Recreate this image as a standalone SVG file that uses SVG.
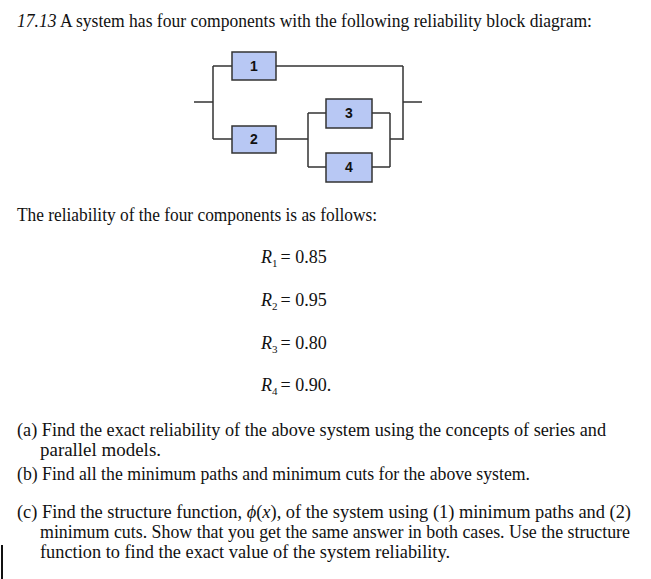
<svg xmlns="http://www.w3.org/2000/svg" width="651" height="579" viewBox="0 0 651 579">
<style>
.t{font-family:"Liberation Serif",serif;font-size:18px;fill:#111}
.b{fill:#b8c8f4;stroke:#333;stroke-width:1.5}
.n{font-family:"Liberation Sans",Arial,sans-serif;font-size:14px;font-weight:bold;text-anchor:middle;fill:#111}
.c{fill:none;stroke:#333;stroke-width:1.5}
</style>
<rect width="651" height="579" fill="#fff"/>
<text class="t" x="17" y="27" textLength="575" lengthAdjust="spacingAndGlyphs"><tspan font-style="italic">17.13</tspan> A system has four components with the following reliability block diagram:</text>
<g id="connectors">
<path class="c" d="M194 102H213M213 66V139M213 66H232M213 139H232M276 66H403M403 66V140M403 102H422M276 139H308M308 113V167M308 113H326M308 167H326M372 113H390M372 167H390M390 113V167M390 139H403"/>
</g>
<g id="n1"><rect class="b" x="232" y="52" width="44" height="28"/><text class="n" x="254" y="71">1</text></g>
<g id="n2"><rect class="b" x="232" y="126" width="44" height="27"/><text class="n" x="254" y="144">2</text></g>
<g id="n3"><rect class="b" x="326" y="99" width="46" height="29"/><text class="n" x="349" y="118">3</text></g>
<g id="n4"><rect class="b" x="326" y="153" width="46" height="29"/><text class="n" x="349" y="172">4</text></g>
<text class="t" x="17" y="221" textLength="360" lengthAdjust="spacingAndGlyphs">The reliability of the four components is as follows:</text>
<text class="t" x="261" y="263"><tspan font-style="italic">R</tspan><tspan font-size="11" dy="4">1</tspan><tspan dy="-4" dx="3">= 0.85</tspan></text>
<text class="t" x="261" y="306"><tspan font-style="italic">R</tspan><tspan font-size="11" dy="4">2</tspan><tspan dy="-4" dx="3">= 0.95</tspan></text>
<text class="t" x="261" y="349"><tspan font-style="italic">R</tspan><tspan font-size="11" dy="4">3</tspan><tspan dy="-4" dx="3">= 0.80</tspan></text>
<text class="t" x="261" y="391"><tspan font-style="italic">R</tspan><tspan font-size="11" dy="4">4</tspan><tspan dy="-4" dx="3">= 0.90.</tspan></text>
<text class="t" x="17" y="436" textLength="589" lengthAdjust="spacingAndGlyphs">(a) Find the exact reliability of the above system using the concepts of series and</text>
<text class="t" x="40" y="456" textLength="121" lengthAdjust="spacingAndGlyphs">parallel models.</text>
<text class="t" x="17" y="480" textLength="513" lengthAdjust="spacingAndGlyphs">(b) Find all the minimum paths and minimum cuts for the above system.</text>
<text class="t" x="17" y="518" textLength="614" lengthAdjust="spacingAndGlyphs">(c) Find the structure function, <tspan font-style="italic">ϕ</tspan>(<tspan font-style="italic">x</tspan>), of the system using (1) minimum paths and (2)</text>
<text class="t" x="40" y="538" textLength="590" lengthAdjust="spacingAndGlyphs">minimum cuts. Show that you get the same answer in both cases. Use the structure</text>
<text class="t" x="40" y="558" textLength="410" lengthAdjust="spacingAndGlyphs">function to find the exact value of the system reliability.</text>
<rect x="1" y="545" width="2" height="34" fill="#111"/>
</svg>
